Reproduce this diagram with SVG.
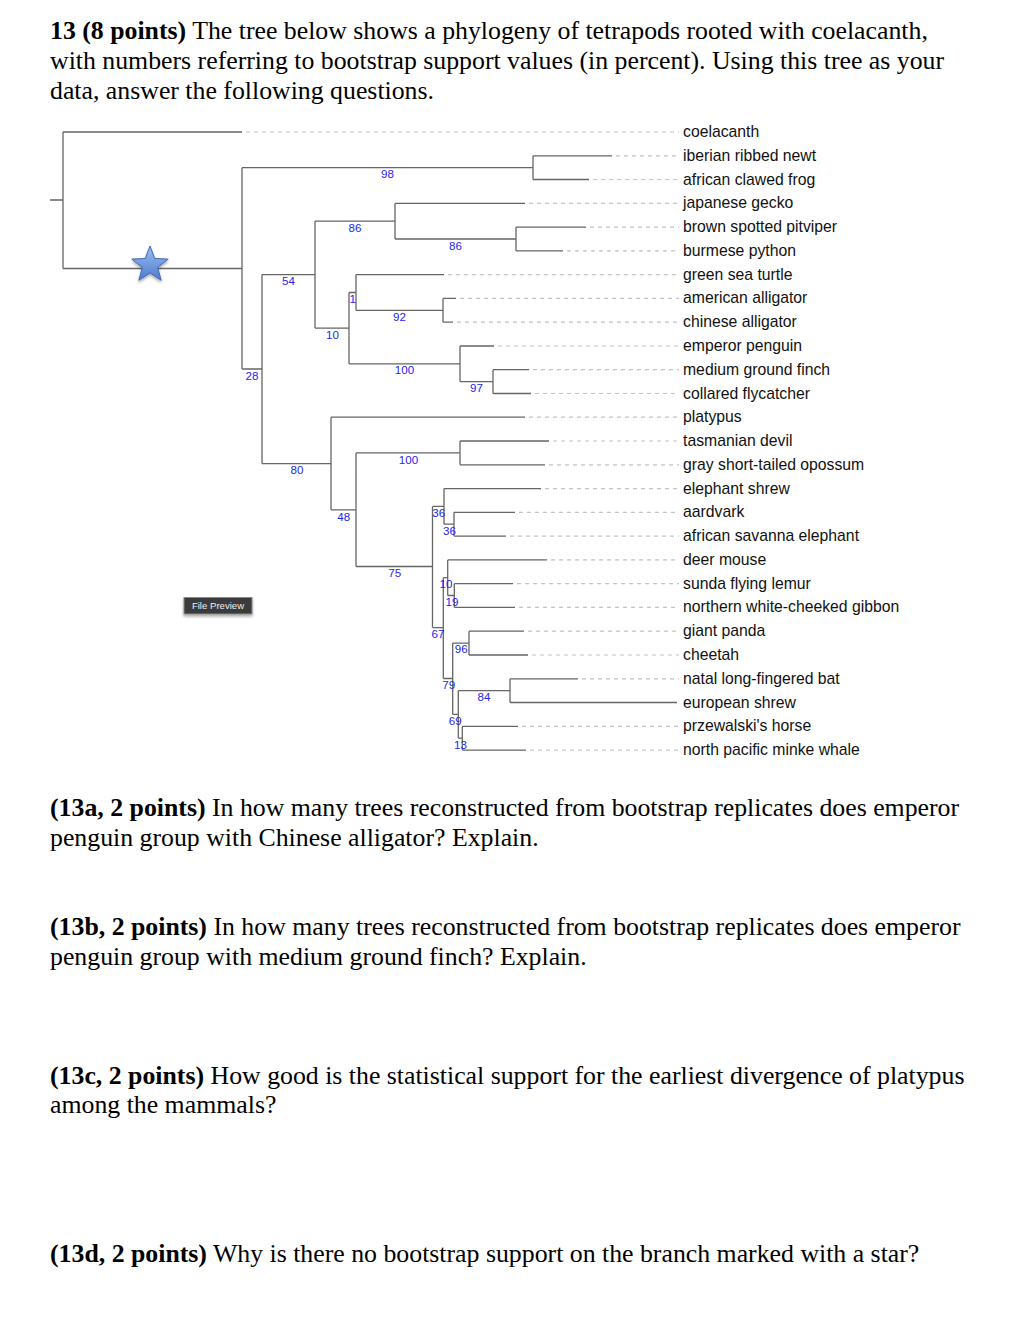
<svg xmlns="http://www.w3.org/2000/svg" width="1022" height="1328" viewBox="0 0 1022 1328">
<style>
.q{font-family:"Liberation Serif","Times New Roman",serif;font-size:25.8px;fill:#000}
.b{font-weight:bold}
.br{fill:none;stroke:#666;stroke-width:1.3}
.d{fill:none;stroke:#c4c4c4;stroke-width:1.2;stroke-dasharray:4 4}
.lf{font-family:"Liberation Sans",Arial,sans-serif;font-size:15.75px;fill:#111}
.bs{font-family:"Liberation Sans",Arial,sans-serif;font-size:11.6px;fill:#2525ee;text-anchor:middle}
</style>
<defs>
<linearGradient id="sg" x1="0" y1="0" x2="0" y2="1">
<stop offset="0" stop-color="#9dbdf0"/>
<stop offset="1" stop-color="#4d7ccc"/>
</linearGradient>
<filter id="sh" x="-30%" y="-30%" width="160%" height="160%">
<feGaussianBlur in="SourceAlpha" stdDeviation="1.5"/>
<feOffset dx="0" dy="1.5" result="o"/>
<feComponentTransfer><feFuncA type="linear" slope="0.35"/></feComponentTransfer>
<feMerge><feMergeNode/><feMergeNode in="SourceGraphic"/></feMerge>
</filter>
</defs>
<rect width="1022" height="1328" fill="#fff"/>

<g id="title">
<text class="q" x="50" y="39"><tspan class="b">13 (8 points)</tspan> The tree below shows a phylogeny of tetrapods rooted with coelacanth,</text>
<text class="q" x="50" y="69">with numbers referring to bootstrap support values (in percent). Using this tree as your</text>
<text class="q" x="50" y="99">data, answer the following questions.</text>
</g>

<g id="connectors">
<!-- dashed leaders -->
<path class="d" d="M246 132H679M616 155.8H679M593 179.5H679M529 203.3H679M590 227.1H679M567 250.9H679M448 274.6H679M460 298.4H679M457 322.2H679M498 346H679M533 369.7H679M535 393.5H679M529 417.2H679M553 441H679M549 464.8H679M545 488.6H679M519 512.3H679M510 536.1H679M551 559.9H679M517 583.7H679M519 607.4H679M528 631.2H679M532 655H679M582 678.8H679M522 726.3H679M530 750.1H679"/>
<!-- root -->
<path class="br" d="M50 200H63M63 132V268.5M63 132H242M63 268.5H242"/>
<!-- tetrapods -->
<path class="br" d="M242 167.7V369M242 167.7H533M533 155.8V179.5M533 155.8H612M533 179.5H589M242 369H262"/>
<!-- amniotes -->
<path class="br" d="M262 274.6V463.6M262 274.6H315M262 463.6H331"/>
<!-- reptiles -->
<path class="br" d="M315 221.2V328.1M315 221.2H395M395 203.3V239M395 203.3H525M395 239H516M516 227.1V250.9M516 227.1H586M516 250.9H563"/>
<path class="br" d="M315 328.1H349M349 292.5V363.8M349 292.5H356M356 274.6V310.3M356 274.6H444M356 310.3H443M443 298.4V322.2M443 298.4H456M443 322.2H453"/>
<path class="br" d="M349 363.8H460M460 346V381.6M460 346H494M460 381.6H493M493 369.7V393.5M493 369.7H529M493 393.5H531"/>
<!-- mammals -->
<path class="br" d="M331 417.2V509.8M331 417.2H525M331 509.8H356M356 452.9V566.5M356 452.9H460M460 441V464.8M460 441H549M460 464.8H545"/>
<path class="br" d="M356 566.5H432.5M432.5 506.4V627.6M432.5 506.4H444M444 488.6V524.2M444 488.6H541M444 524.2H454M454 512.3V536.1M454 512.3H515M454 536.1H506"/>
<path class="br" d="M432.5 627.6H443.3M443.3 577.7V678.5M443.3 577.7H447.7M447.7 559.9V595.5M447.7 559.9H547M447.7 595.5H454.3M454.3 583.7V607.4M454.3 583.7H513M454.3 607.4H515"/>
<path class="br" d="M443.3 678.5H452.7M452.7 643.1V714.4M452.7 643.1H469M469 631.2V655M469 631.2H524M469 655H528M452.7 714.4H458.3M458.3 690.6V738.2M458.3 690.6H510M510 678.8V702.5M510 678.8H578M510 702.5H677M458.3 738.2H462.3M462.3 726.3V750.1M462.3 726.3H518M462.3 750.1H526"/>
</g>

<g id="support">
<text class="bs" x="387.5" y="178.3">98</text>
<text class="bs" x="355" y="231.8">86</text>
<text class="bs" x="455.5" y="249.6">86</text>
<text class="bs" x="288.5" y="285.2">54</text>
<text class="bs" x="352.7" y="303.3">1</text>
<text class="bs" x="399.5" y="320.9">92</text>
<text class="bs" x="332.5" y="338.7">10</text>
<text class="bs" x="404.5" y="374.4">100</text>
<text class="bs" x="476.5" y="392.2">97</text>
<text class="bs" x="252" y="379.6">28</text>
<text class="bs" x="297" y="474.2">80</text>
<text class="bs" x="408.5" y="463.7">100</text>
<text class="bs" x="343.8" y="520.6">48</text>
<text class="bs" x="438.7" y="517">36</text>
<text class="bs" x="449.5" y="534.6">36</text>
<text class="bs" x="394.7" y="577.4">75</text>
<text class="bs" x="446" y="588.4">10</text>
<text class="bs" x="452" y="606">19</text>
<text class="bs" x="438" y="638">67</text>
<text class="bs" x="461.3" y="653.4">96</text>
<text class="bs" x="448.7" y="688.8">79</text>
<text class="bs" x="484" y="701.2">84</text>
<text class="bs" x="455.3" y="724.6">69</text>
<text class="bs" x="460.5" y="748.6">13</text>
</g>

<g id="leaves">
<text class="lf" x="683" y="137">coelacanth</text>
<text class="lf" x="683" y="160.8">iberian ribbed newt</text>
<text class="lf" x="683" y="184.5">african clawed frog</text>
<text class="lf" x="683" y="208.3">japanese gecko</text>
<text class="lf" x="683" y="232.1">brown spotted pitviper</text>
<text class="lf" x="683" y="255.9">burmese python</text>
<text class="lf" x="683" y="279.6">green sea turtle</text>
<text class="lf" x="683" y="303.4">american alligator</text>
<text class="lf" x="683" y="327.2">chinese alligator</text>
<text class="lf" x="683" y="351">emperor penguin</text>
<text class="lf" x="683" y="374.7">medium ground finch</text>
<text class="lf" x="683" y="398.5">collared flycatcher</text>
<text class="lf" x="683" y="422.2">platypus</text>
<text class="lf" x="683" y="446">tasmanian devil</text>
<text class="lf" x="683" y="469.8">gray short-tailed opossum</text>
<text class="lf" x="683" y="493.6">elephant shrew</text>
<text class="lf" x="683" y="517.3">aardvark</text>
<text class="lf" x="683" y="541.1">african savanna elephant</text>
<text class="lf" x="683" y="564.9">deer mouse</text>
<text class="lf" x="683" y="588.7">sunda flying lemur</text>
<text class="lf" x="683" y="612.4">northern white-cheeked gibbon</text>
<text class="lf" x="683" y="636.2">giant panda</text>
<text class="lf" x="683" y="660">cheetah</text>
<text class="lf" x="683" y="683.8">natal long-fingered bat</text>
<text class="lf" x="683" y="707.5">european shrew</text>
<text class="lf" x="683" y="731.3">przewalski's horse</text>
<text class="lf" x="683" y="755.1">north pacific minke whale</text>
</g>

<g id="star">
<polygon points="150,246 154.7,258.5 168.2,259.1 157.6,267.4 161.2,280.3 150,272.9 138.8,280.3 142.4,267.4 131.8,259.1 145.3,258.5" fill="url(#sg)" stroke="#3f68b5" stroke-width="1" stroke-linejoin="round" filter="url(#sh)"/>
</g>

<g id="file-preview">
<rect x="184" y="597.5" width="68" height="16.5" fill="#3b3b3b" stroke="#8a8a8a" stroke-width="1" filter="url(#sh)"/>
<text x="218" y="609.3" font-family="Liberation Sans, Arial, sans-serif" font-size="9.6" fill="#eeeeee" text-anchor="middle">File Preview</text>
</g>

<g id="questions">
<text class="q" x="50" y="816"><tspan class="b">(13a, 2 points)</tspan> In how many trees reconstructed from bootstrap replicates does emperor</text>
<text class="q" x="50" y="846">penguin group with Chinese alligator? Explain.</text>
<text class="q" x="50" y="935"><tspan class="b">(13b, 2 points)</tspan> In how many trees reconstructed from bootstrap replicates does emperor</text>
<text class="q" x="50" y="965">penguin group with medium ground finch? Explain.</text>
<text class="q" x="50" y="1084"><tspan class="b">(13c, 2 points)</tspan> How good is the statistical support for the earliest divergence of platypus</text>
<text class="q" x="50" y="1113">among the mammals?</text>
<text class="q" x="50" y="1262"><tspan class="b">(13d, 2 points)</tspan> Why is there no bootstrap support on the branch marked with a star?</text>
</g>
</svg>
